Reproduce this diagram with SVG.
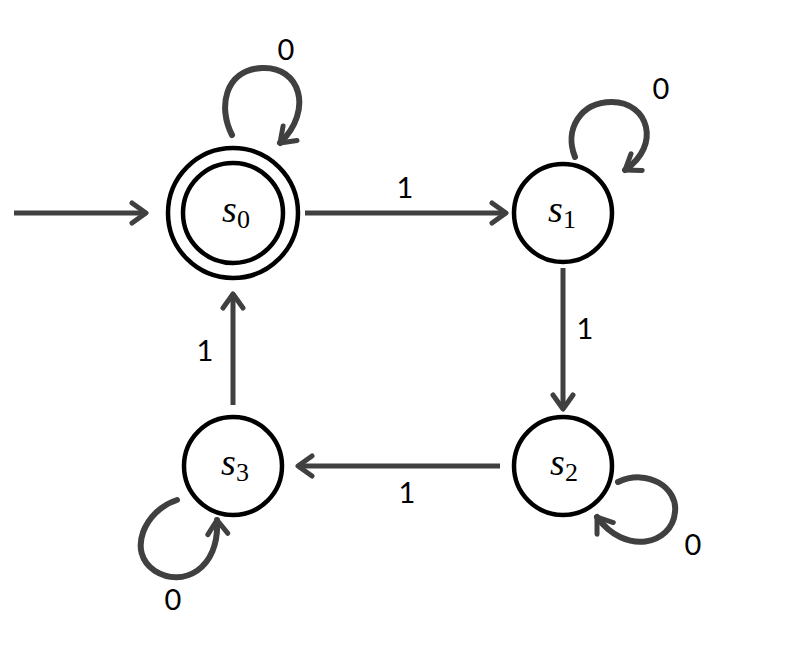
<svg xmlns="http://www.w3.org/2000/svg" width="789" height="645" viewBox="0 0 789 645">
  <style>
    .state { fill: #fff; stroke: #000; stroke-width: 4.5; }
    .edge { fill: none; stroke: #404040; stroke-width: 5; }
    .loop { fill: none; stroke: #404040; stroke-width: 6; stroke-linecap: round; }
    .name { font-family: "Liberation Serif", "DejaVu Serif", serif; font-size: 38px; fill: #000; }
    .name .s { font-style: italic; }
    .name .sub { font-size: 26px; }
    .lbl { font-family: Lato, "Liberation Sans", sans-serif; font-size: 29px; fill: #000; text-anchor: middle; }
  </style>
  <defs>
    <marker id="arrow" markerUnits="userSpaceOnUse" orient="auto" refX="0" refY="0" markerWidth="40" markerHeight="40" overflow="visible">
      <path d="M-14,-10 L0,0 L-14,10" fill="none" stroke="#404040" stroke-width="5" stroke-linejoin="round" stroke-linecap="round"/>
    </marker>
  </defs>

  <rect width="789" height="645" fill="#fff"/>

  <!-- transitions -->
  <g id="edges">
    <path class="edge" d="M14,213 L146,213" marker-end="url(#arrow)"/>
    <path class="edge" d="M305,213 L506,213" marker-end="url(#arrow)"/>
    <path class="edge" d="M563,268 L563,409" marker-end="url(#arrow)"/>
    <path class="edge" d="M500,466 L298,466" marker-end="url(#arrow)"/>
    <path class="edge" d="M233,405 L233,294" marker-end="url(#arrow)"/>

    <path class="loop" d="M232,135 C218,108 224,70 262,68 C300,66 314,110 280,143" marker-end="url(#arrow)"/>
    <path class="loop" d="M575,157 C564,130 580,102 612,102 C648,102 662,145 625,170" marker-end="url(#arrow)"/>
    <path class="loop" d="M618,482 C648,468 678,488 675,512 C672,545 625,556 597,517" marker-end="url(#arrow)"/>
    <path class="loop" d="M177,500 C145,510 126,552 155,571 C182,588 220,570 217,520" marker-end="url(#arrow)"/>

    <text class="lbl" x="405" y="198">1</text>
    <text class="lbl" x="585" y="339">1</text>
    <text class="lbl" x="407" y="503">1</text>
    <text class="lbl" x="205" y="361">1</text>
    <text class="lbl" x="286" y="60">0</text>
    <text class="lbl" x="661" y="99">0</text>
    <text class="lbl" x="693" y="555">0</text>
    <text class="lbl" x="173" y="610">0</text>
  </g>

  <!-- states -->
  <g id="s0">
    <circle class="state" cx="233" cy="213" r="65"/>
    <circle class="state" cx="233" cy="213" r="50"/>
    <text class="name" x="236" y="222" text-anchor="middle"><tspan class="s">s</tspan><tspan class="sub" dy="6">0</tspan></text>
  </g>
  <g id="s1">
    <circle class="state" cx="563" cy="213" r="49"/>
    <text class="name" x="562" y="222" text-anchor="middle"><tspan class="s">s</tspan><tspan class="sub" dy="6">1</tspan></text>
  </g>
  <g id="s2">
    <circle class="state" cx="563" cy="466" r="49"/>
    <text class="name" x="564" y="475" text-anchor="middle"><tspan class="s">s</tspan><tspan class="sub" dy="6">2</tspan></text>
  </g>
  <g id="s3">
    <circle class="state" cx="233" cy="466" r="49"/>
    <text class="name" x="235" y="475" text-anchor="middle"><tspan class="s">s</tspan><tspan class="sub" dy="6">3</tspan></text>
  </g>
</svg>
